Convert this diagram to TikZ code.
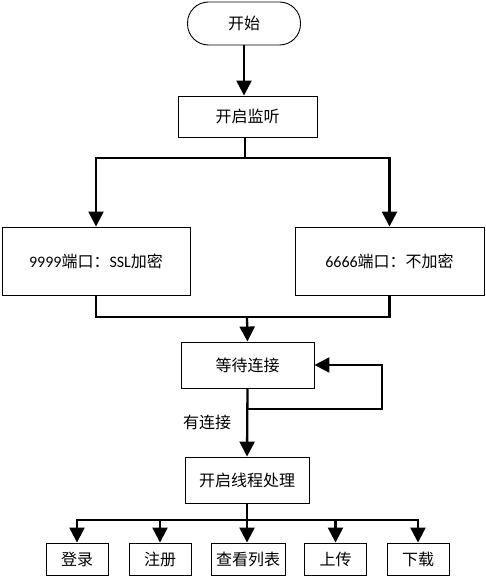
\documentclass[tikz,border=0pt]{standalone}
\usepackage{fontspec}
\setmainfont{Noto Sans CJK SC}
\newfontfamily\lat{Carlito}
\usetikzlibrary{arrows.meta}
\begin{document}
\begin{tikzpicture}[x=1pt,y=-1pt,
  box/.style={draw,line width=0.9pt,minimum height=#1,inner sep=0pt,font=\fontsize{16}{18}\selectfont},
  box/.default=41pt,
  conn/.style={line width=2.3pt},
  arr/.style={conn,-{Triangle[width=15pt,length=15pt]}}]
\useasboundingbox (0,0) rectangle (485,577);
\node[box=43pt,minimum width=113pt,rounded corners=21pt] (start) at (244,23.5) {开始};
\node[box=41pt,minimum width=139pt] (listen) at (247.5,116.5) {开启监听};
\node[box=68pt,minimum width=188pt] (p9) at (96,261) {{\lat 9999}端口：{\lat SSL}加密};
\node[box=68pt,minimum width=189pt] (p6) at (389.5,261) {{\lat 6666}端口：不加密};
\node[box=46pt,minimum width=133pt] (wait) at (247.5,365) {等待连接};
\node[box=46pt,minimum width=124pt] (thread) at (247,480) {开启线程处理};
\node[box=32pt,minimum width=62pt] (login) at (77,559) {登录};
\node[box=32pt,minimum width=62pt] (reg) at (160,559) {注册};
\node[box=32pt,minimum width=74pt] (list) at (248,559) {查看列表};
\node[box=32pt,minimum width=62pt] (up) at (335.5,559) {上传};
\node[box=32pt,minimum width=62pt] (down) at (418,559) {下载};
\node[font=\fontsize{16}{18}\selectfont] (has) at (207,422) {有连接};
\coordinate (split) at (245,158);
\coordinate (merge) at (247,317);
\coordinate (loop) at (382,409);
\coordinate (fan) at (247,520);
% connectors
\draw[arr] (start.south -| 244,0) -- (listen.north -| 244,0);
\draw[conn] (listen.south -| split) -- (split);
\draw[arr] (split) -| (p9.north);
\draw[arr] (split) -| (p6.north);
\draw[conn] (p9.south) |- (merge);
\draw[conn] (p6.south) |- (merge);
\draw[arr] (merge) -- (wait.north);
\draw[arr] (wait.south) -- (thread.north);
\draw[arr] (wait.south |- loop) -- (loop) |- (wait.east);
\draw[conn] (thread.south) -- (fan);
\draw[arr] (fan) -| (login.north);
\draw[arr] (fan) -| (reg.north);
\draw[arr] (fan) -- (list.north -| fan);
\draw[arr] (fan) -| (up.north);
\draw[arr] (fan) -| (down.north);
\end{tikzpicture}
\end{document}
